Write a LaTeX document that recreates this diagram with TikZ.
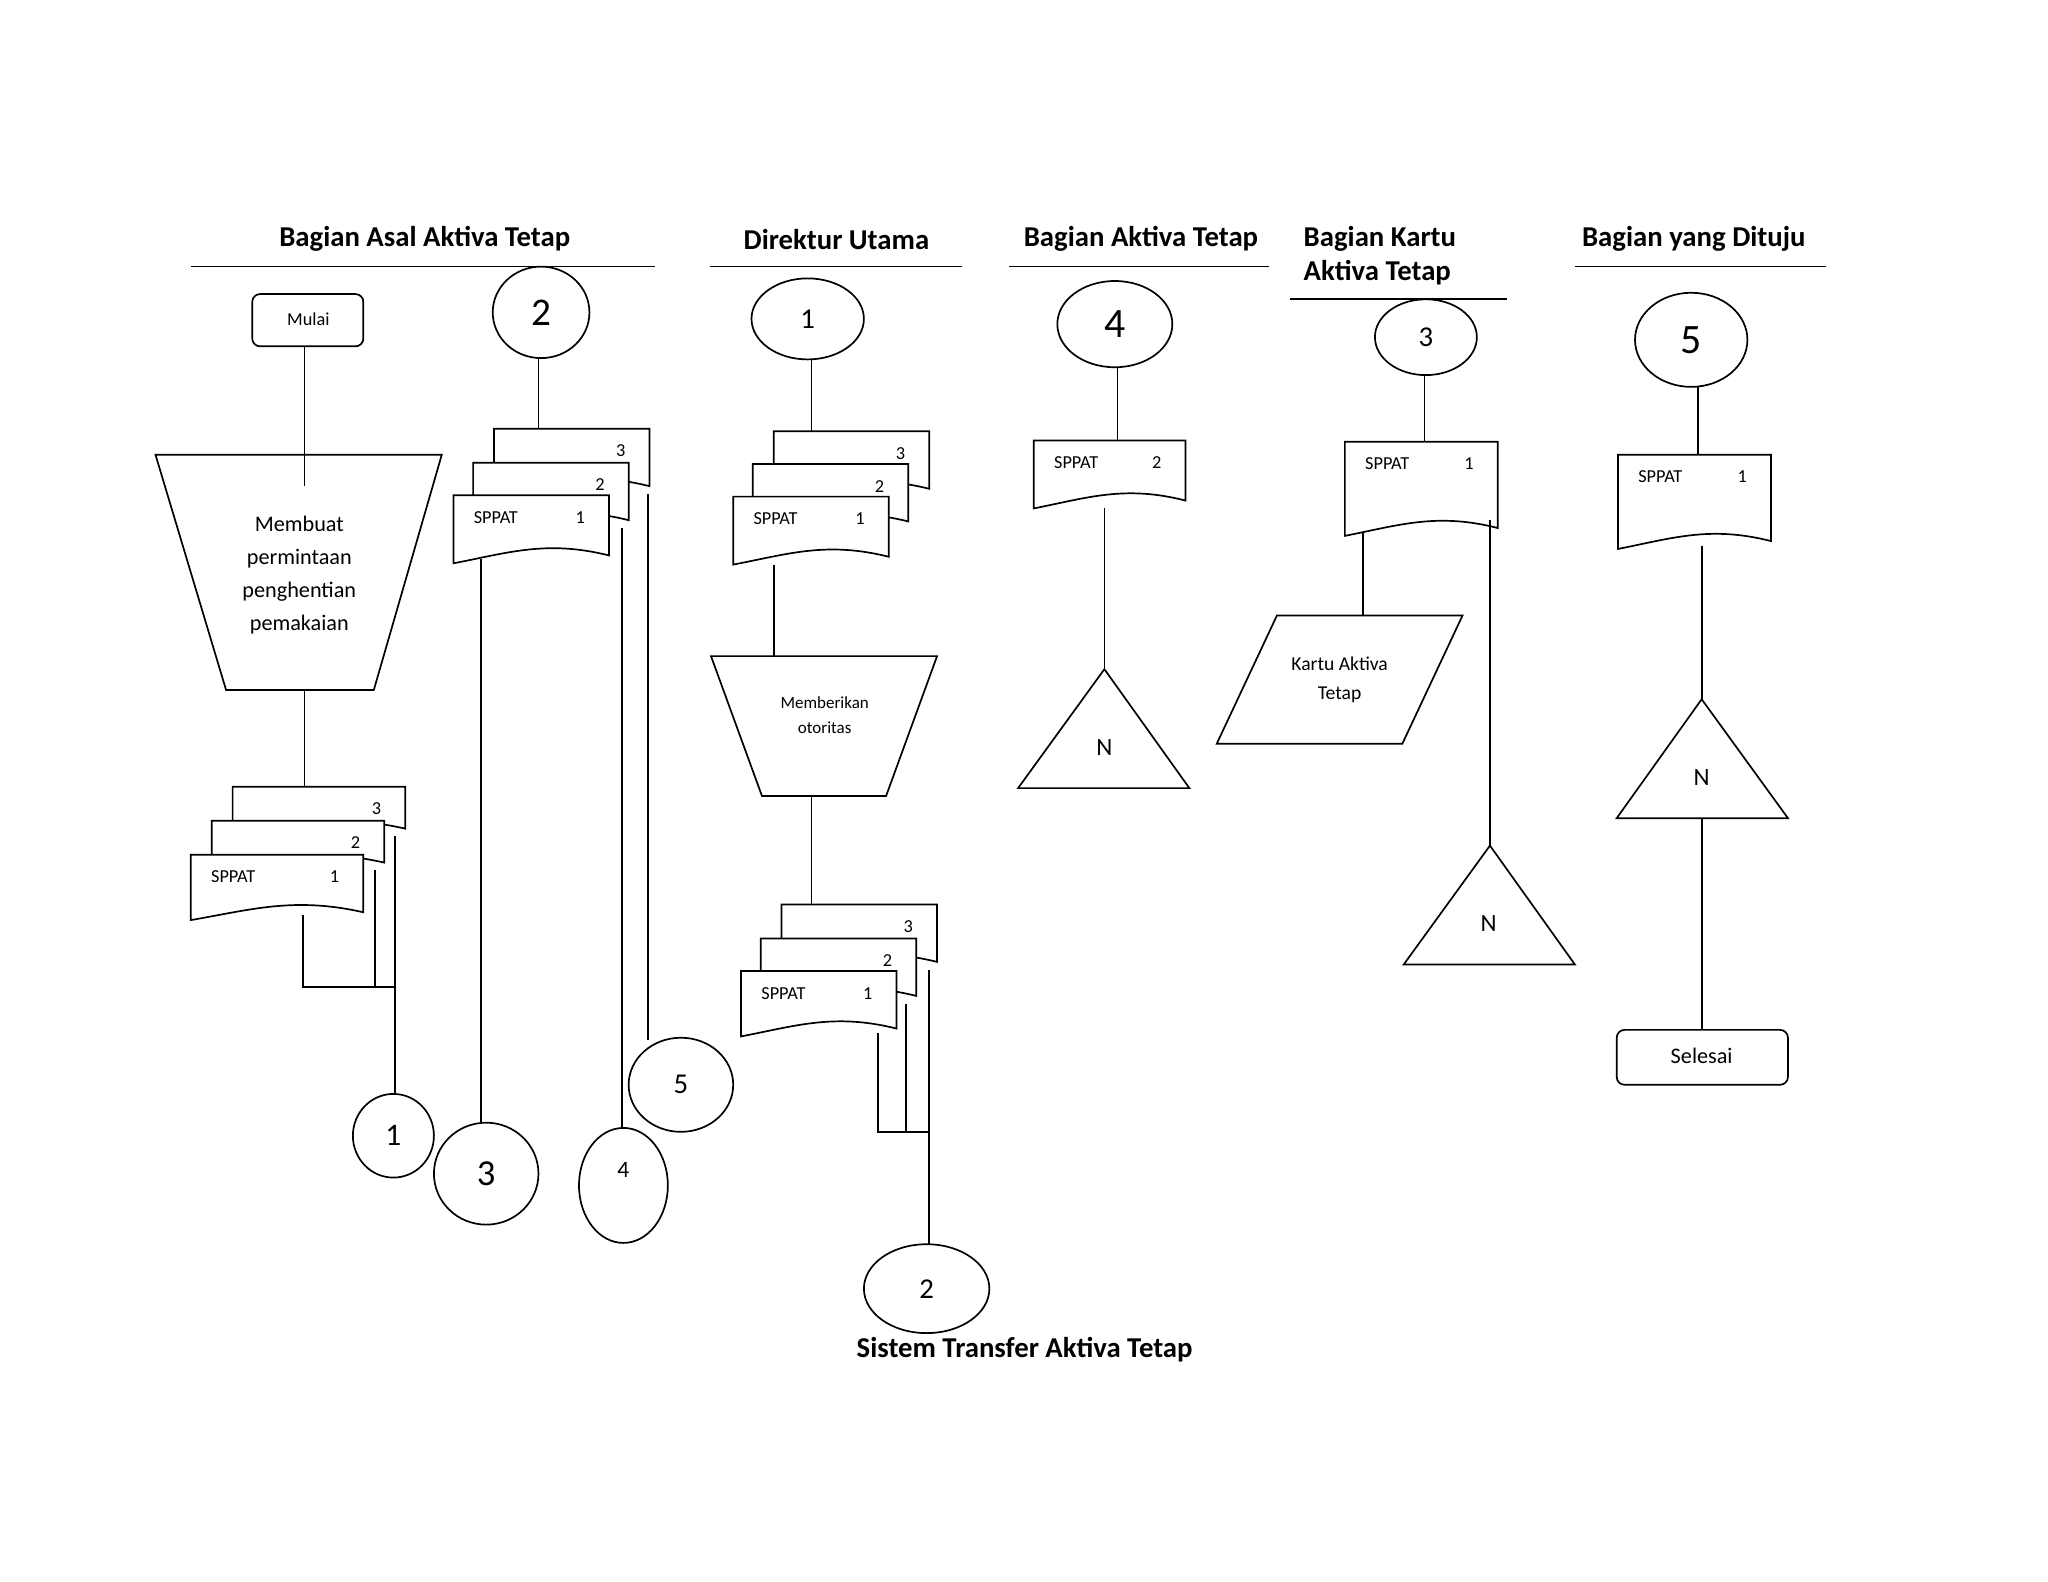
\documentclass[tikz,border=0pt]{standalone}
\usepackage{fontspec}
\setmainfont{Carlito}
\usetikzlibrary{shapes.geometric}
\tikzset{ln/.style={line width=1.3pt},
 fs/.style={font=\fontsize{#1}{#1}\selectfont},
 hd/.style={font=\fontsize{22}{26}\selectfont\bfseries}}
\newcommand{\docu}[5]{% x y w h label-num
 \draw[ln,fill=white] (#1,#2) -- ++(#3,0) -- ++(0,#4-6) .. controls ++(-0.4*#3,-12) and ++(0.35*#3,-8) .. (#1,#2+#4) -- cycle;
 \node[fs=14] at (#1+#3-22,#2+17) {#5};}
\newcommand{\sdocu}[5]{\docu{#1}{#2}{#3}{#4}{#5}\node[fs=14,anchor=west] at (#1+12,#2+17) {SPPAT};}
\begin{document}
\begin{tikzpicture}[x=1pt,y=-1pt]
\useasboundingbox (0,0) rectangle (1567,1210);
% headers
\node[hd] at (325,183) {Bagian Asal Aktiva Tetap};
\draw[ln] (146,204) -- (501,204);
\node[hd] at (640,183) {Direktur Utama};
\draw[ln] (543,204) -- (736,204);
\node[hd] at (873,183) {Bagian Aktiva Tetap};
\draw[ln] (772,204) -- (971,204);
\node[hd,align=left,anchor=north west] at (994,170) {Bagian Kartu\\Aktiva Tetap};
\draw[ln] (987,229) -- (1153,229);
\node[hd] at (1296,183) {Bagian yang Dituju};
\draw[ln] (1205,204) -- (1397,204);
\node[hd] at (784,1033) {Sistem Transfer Aktiva Tetap};
% col1
\draw[ln,rounded corners=6] (193,225) rectangle (278,265);
\node[fs=14] at (236,244) {Mulai};
\draw[ln] (233,265) -- (233,372);
\draw[ln] (119,348) -- (338,348) -- (286,528) -- (173,528) -- cycle;
\node[fs=17,align=center] at (229,440) {Membuat\\[8pt]permintaan\\[8pt]penghentian\\[8pt]pemakaian};
\draw[ln] (233,528) -- (233,602);
\draw[ln] (232,700) -- (232,755) -- (302,755);
\draw[ln] (287,666) -- (287,755);
\draw[ln] (302,640) -- (302,838);
\docu{178}{602}{132}{38}{3}
\docu{162}{628}{132}{38}{2}
\sdocu{146}{654}{132}{50}{1}
\draw[ln] (301,869) ellipse (31 and 32) node[fs=24]{1};
% col2
\draw[ln] (414,239) ellipse (37 and 35) node[fs=30]{2};
\draw[ln] (412,274) -- (412,328);
\draw[ln] (368,428) -- (368,860);
\draw[ln] (476,404) -- (476,863);
\draw[ln] (496,378) -- (496,796);
\docu{378}{328}{119}{50}{3}
\docu{362}{354}{119}{50}{2}
\sdocu{347}{379}{119}{52}{1}
\draw[ln] (372,898) ellipse (40 and 39) node[fs=28]{3};
\draw[ln] (477,907) ellipse (34 and 44) node[yshift=12pt,fs=18]{4};
\draw[ln] (521,830) ellipse (40 and 36) node[fs=22]{5};
% col3
\draw[ln] (618,244) ellipse (43 and 31) node[fs=22]{1};
\draw[ln] (621,275) -- (621,330);
\docu{592}{330}{119}{50}{3}
\docu{576}{355}{119}{50}{2}
\sdocu{561}{380}{119}{52}{1}
\draw[ln] (592,432) -- (592,502);
\draw[ln] (544,502) -- (717,502) -- (678,609) -- (583,609) -- cycle;
\node[fs=13,align=center] at (631,547) {Memberikan\\[6pt]otoritas};
\draw[ln] (621,609) -- (621,692);
\draw[ln] (672,790) -- (672,866) -- (711,866);
\draw[ln] (693,768) -- (693,866);
\draw[ln] (711,742) -- (711,952);
\docu{598}{692}{119}{50}{3}
\docu{582}{718}{119}{50}{2}
\sdocu{567}{743}{119}{50}{1}
\draw[ln] (709,986) ellipse (48 and 34) node[fs=22]{2};
% col4
\draw[ln] (853,248) ellipse (44 and 33) node[fs=32]{4};
\draw[ln] (855,281) -- (855,337);
\sdocu{791}{337}{116}{52}{2}
\draw[ln] (845,389) -- (845,512);
\draw[ln] (845,512) -- (910,603) -- (779,603) -- cycle;
\node[fs=19] at (845,572) {N};
% col5
\draw[ln] (1091,258) ellipse (39 and 29) node[fs=22]{3};
\draw[ln] (1090,287) -- (1090,338);
\sdocu{1029}{338}{117}{72}{1}
\draw[ln] (1043,408) -- (1043,471);
\draw[ln] (977,471) -- (1119,471) -- (1073,569) -- (931,569) -- cycle;
\node[fs=15,align=center] at (1025,520) {Kartu Aktiva\\[7pt]Tetap};
\draw[ln] (1140,398) -- (1140,647);
\draw[ln] (1140,647) -- (1205,738) -- (1074,738) -- cycle;
\node[fs=19] at (1139,707) {N};
% col6
\draw[ln] (1294,260) ellipse (43 and 36) node[fs=32]{5};
\draw[ln] (1299,296) -- (1299,348);
\sdocu{1238}{348}{117}{72}{1}
\draw[ln] (1302,418) -- (1302,535);
\draw[ln] (1302,535) -- (1368,626) -- (1237,626) -- cycle;
\node[fs=19] at (1302,595) {N};
\draw[ln] (1302,626) -- (1302,788);
\draw[ln,rounded corners=6] (1237,788) rectangle (1368,830);
\node[fs=17] at (1302,808) {Selesai};
\end{tikzpicture}
\end{document}
